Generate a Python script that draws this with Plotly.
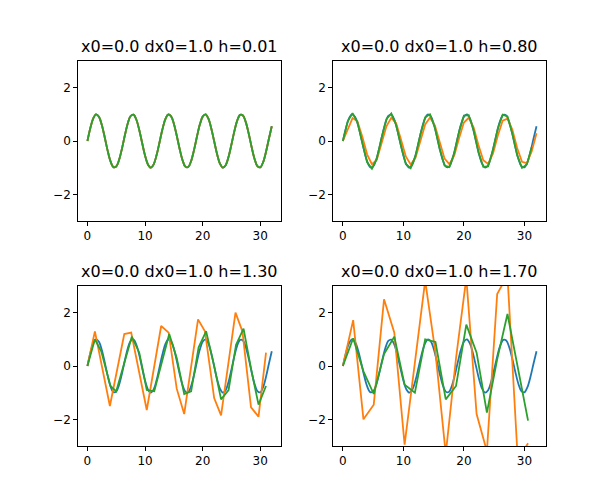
import plotly.graph_objects as go

titles = ["x0=0.0 dx0=1.0 h=0.01", "x0=0.0 dx0=1.0 h=0.80", "x0=0.0 dx0=1.0 h=1.30", "x0=0.0 dx0=1.0 h=1.70"]

t_exact = [i * 0.5 for i in range(65)]
x_exact = [0, .479, .841, .997, .909, .598, .141, -.351, -.757, -.978, -.959, -.706, -.279, .215, .657, .938, .989, .798, .412, -.075,
           -.544, -.880, -1.0, -.875, -.537, -.066, .420, .804, .991, .935, .650, .206, -.288, -.712, -.961, -.977, -.751, -.342, .150,
           .605, .913, .997, .837, .472, -.009, -.489, -.846, -.998, -.906, -.591, -.132, .360, .763, .980, .956, .699, .271, -.224,
           -.664, -.941, -.988, -.792, -.404, .083, .551]

t_08 = [i * 0.8 for i in range(40)]
green_08 = [0, .74, 1.04, .71, -.06, -.79, -1.04, -.66, .12, .82, 1.03, .6, -.18, -.86, -1.02, -.56, .24, .89, 1.0, .51,
            -.3, -.92, -.98, -.46, .35, .95, .97, .41, -.42, -.97, -.95, -.34, .47, .99, .92, .28, -.53, -1.01, -.88, -.23]
t_08o = [i * 0.8 for i in range(41)]
orange_08 = [0, .46, .86, .74, .17, -.5, -.87, -.71, -.12, .55, .87, .67, .06, -.58, -.88, -.63, -.01, .62, .88, .59,
             -.04, -.66, -.87, -.55, .1, .69, .87, .51, -.15, -.72, -.86, -.48, .2, .76, .84, .43, -.26, -.78, -.83, -.39, .29]

t_13o = [0, 1.3, 3.9, 6.4, 7.6, 10.3, 12.8, 14.1, 15.5, 16.8, 19.2, 20.4, 22.0, 23.2, 25.7, 26.9, 28.4, 29.7, 31.0]
orange_13 = [0, 1.3, -1.5, 1.2, 1.25, -1.65, 1.5, 1.25, -0.85, -1.8, 1.75, 1.3, -1.2, -1.85, 2.0, 1.3, -1.55, -1.9, 0.5]
t_13g = [0, 1.3, 2.4, 4.0, 5.0, 7.7, 9.0, 10.3, 11.6, 14.2, 15.5, 16.8, 18.0, 19.3, 20.6, 21.9, 23.2, 24.5, 25.8, 27.1, 28.4, 29.7, 31.0]
green_13 = [0, 1.0, 0.55, -0.75, -0.95, 1.1, 0.5, -0.9, -0.95, 1.2, 0.3, -1.05, -0.95, 0.7, 1.3, 0.1, -1.25, -0.9, 0.8, 1.4, -0.1, -1.45, -0.75]

t_17 = [i * 1.7 for i in range(19)]
orange_17 = [0, 1.72, -2.0, -1.45, 2.5, 1.25, -2.95, 0.1, 3.2, 0.5, -3.3, 0.3, 3.3, -1.8, -3.2, 2.7, 3.4, -3.5, -2.9]
green_17 = [0, 1.04, -0.2, -1.05, 0.45, 1.1, -0.7, -1.0, 1.0, 0.9, -1.25, -0.75, 1.55, 0.5, -1.75, 0.25, 1.95, -0.05, -2.05]

panels = [
    [(t_exact, x_exact), (t_exact, x_exact), (t_exact, x_exact)],
    [(t_exact, x_exact), (t_08o, orange_08), (t_08, green_08)],
    [(t_exact, x_exact), (t_13o, orange_13), (t_13g, green_13)],
    [(t_exact, x_exact), (t_17, orange_17), (t_17, green_17)],
]
colors = ["#1f77b4", "#ff7f0e", "#2ca02c"]

xd = [[0.117, 0.455], [0.542, 0.897], [0.117, 0.455], [0.542, 0.897]]
yd = [[0.574, 0.894], [0.574, 0.894], [0.124, 0.444], [0.124, 0.444]]

fig = go.Figure()
for i, p in enumerate(panels):
    sfx = "" if i == 0 else str(i + 1)
    for j, (tt, xx) in enumerate(p):
        shape = "spline" if (j == 0 or i == 0) else "linear"
        fig.add_trace(go.Scatter(x=tt, y=xx, mode="lines", xaxis="x" + sfx, yaxis="y" + sfx,
                                 line=dict(color=colors[j], width=1.8, shape=shape), showlegend=False))
    ax = dict(showgrid=False, zeroline=False, showline=True, linecolor="black", linewidth=1, mirror=True,
              ticks="outside", ticklen=4, tickcolor="black", tickfont=dict(size=12, color="black"))
    fig.layout["xaxis" + sfx] = dict(ax, domain=xd[i], range=[-1.6, 33.6], tickvals=[0, 10, 20, 30], anchor="y" + sfx)
    fig.layout["yaxis" + sfx] = dict(ax, domain=yd[i], range=[-3, 3], tickvals=[-2, 0, 2], anchor="x" + sfx)
    fig.add_annotation(text=titles[i], x=0.5, y=1, xref="x" + sfx + " domain", yref="y" + sfx + " domain",
                       xanchor="center", yanchor="bottom", yshift=3, showarrow=False, font=dict(size=16, color="black"))

fig.update_layout(width=600, height=500, margin=dict(l=0, r=0, t=0, b=0), plot_bgcolor="white", paper_bgcolor="white",
                  font=dict(family="DejaVu Sans"))
fig.write_html("out.html")
